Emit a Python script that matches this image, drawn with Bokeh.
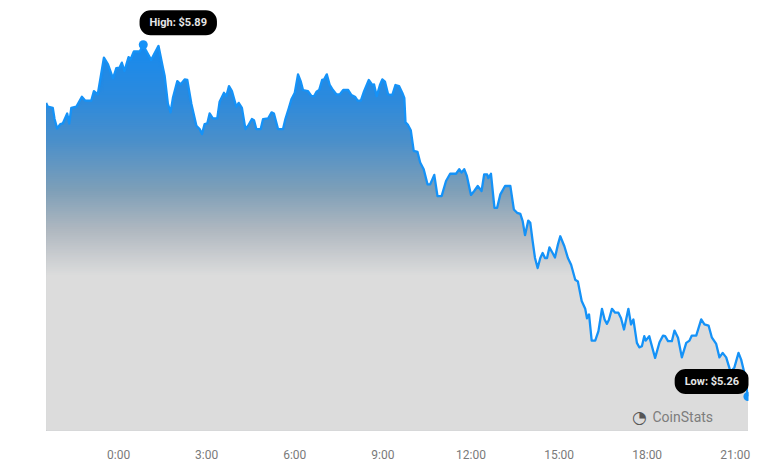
import numpy as np
from bokeh.plotting import figure
from bokeh.models import Range1d, Label, FixedTicker
from bokeh.embed import file_html
from bokeh.resources import INLINE

# ---- data (hours relative to midnight, price in USD) ----
hours = [-2.47, -2.41, -2.24, -2.18, -2.09, -1.98, -1.90, -1.75, -1.68, -1.61,
         -1.44, -1.25, -1.14, -0.93, -0.84, -0.71, -0.50, -0.36, -0.19, -0.08,
         0.03, 0.11, 0.20, 0.34, 0.41, 0.52, 0.72, 0.84, 0.94, 1.11,
         1.36, 1.51, 1.57, 1.68, 1.77, 1.85, 2.00, 2.11, 2.25, 2.34,
         2.48, 2.65, 2.76, 2.84, 2.93, 3.02, 3.10, 3.21, 3.36, 3.44,
         3.59, 3.67, 3.76, 3.86, 4.01, 4.09, 4.20, 4.32, 4.41, 4.54,
         4.61, 4.69, 4.84, 4.92, 5.09, 5.21, 5.29, 5.43, 5.60, 5.68,
         5.80, 5.89, 6.00, 6.11, 6.20, 6.28, 6.45, 6.57, 6.66, 6.74,
         6.83, 6.93, 7.00, 7.09, 7.19, 7.30, 7.42, 7.53, 7.65, 7.82,
         7.93, 8.05, 8.14, 8.25, 8.36, 8.52, 8.64, 8.70, 8.79, 8.90,
         8.98, 9.07, 9.18, 9.32, 9.43, 9.55, 9.66, 9.73, 9.77, 9.86,
         9.95, 10.05, 10.18, 10.27, 10.39, 10.52, 10.61, 10.75, 10.86, 11.00,
         11.15, 11.29, 11.49, 11.60, 11.68, 11.77, 11.86, 12.00, 12.11, 12.23,
         12.36, 12.45, 12.55, 12.59, 12.68, 12.80, 12.89, 13.00, 13.16, 13.34,
         13.46, 13.57, 13.68, 13.76, 13.84, 13.95, 14.02, 14.10, 14.18, 14.27,
         14.36, 14.44, 14.52, 14.59, 14.67, 14.78, 14.86, 14.96, 15.04, 15.18,
         15.30, 15.41, 15.55, 15.64, 15.77, 15.89, 15.95, 16.02, 16.11, 16.23,
         16.34, 16.46, 16.55, 16.63, 16.70, 16.80, 16.91, 17.02, 17.11, 17.21,
         17.36, 17.45, 17.53, 17.65, 17.73, 17.82, 17.90, 17.95, 18.07, 18.11,
         18.27, 18.42, 18.54, 18.61, 18.71, 18.84, 18.93, 19.05, 19.18, 19.33,
         19.44, 19.52, 19.67, 19.84, 19.95, 20.09, 20.20, 20.35, 20.46, 20.57,
         20.69, 20.84, 20.97, 21.11, 21.20, 21.31, 21.43]

prices = [5.786, 5.779, 5.777, 5.757, 5.740, 5.748, 5.749, 5.767, 5.749, 5.777,
          5.779, 5.797, 5.790, 5.790, 5.807, 5.801, 5.867, 5.855, 5.830, 5.848,
          5.849, 5.858, 5.843, 5.868, 5.864, 5.878, 5.878, 5.890, 5.879, 5.863,
          5.888, 5.849, 5.834, 5.784, 5.769, 5.795, 5.825, 5.819, 5.828, 5.827,
          5.784, 5.745, 5.739, 5.730, 5.748, 5.749, 5.767, 5.758, 5.758, 5.788,
          5.804, 5.798, 5.816, 5.807, 5.779, 5.786, 5.777, 5.739, 5.745, 5.757,
          5.755, 5.739, 5.739, 5.757, 5.758, 5.769, 5.767, 5.739, 5.739, 5.757,
          5.777, 5.793, 5.804, 5.837, 5.825, 5.809, 5.807, 5.798, 5.798, 5.806,
          5.809, 5.827, 5.828, 5.837, 5.818, 5.809, 5.801, 5.801, 5.809, 5.809,
          5.800, 5.797, 5.790, 5.790, 5.807, 5.827, 5.818, 5.819, 5.798, 5.818,
          5.828, 5.824, 5.801, 5.800, 5.818, 5.816, 5.804, 5.795, 5.751, 5.746,
          5.737, 5.700, 5.698, 5.679, 5.667, 5.640, 5.640, 5.657, 5.619, 5.619,
          5.646, 5.659, 5.659, 5.667, 5.661, 5.667, 5.655, 5.621, 5.628, 5.637,
          5.628, 5.658, 5.658, 5.651, 5.659, 5.598, 5.598, 5.622, 5.637, 5.637,
          5.595, 5.589, 5.587, 5.574, 5.549, 5.575, 5.571, 5.538, 5.508, 5.490,
          5.508, 5.517, 5.508, 5.508, 5.527, 5.517, 5.509, 5.532, 5.547, 5.529,
          5.508, 5.496, 5.469, 5.466, 5.431, 5.417, 5.400, 5.407, 5.360, 5.360,
          5.377, 5.417, 5.398, 5.390, 5.398, 5.417, 5.410, 5.410, 5.400, 5.380,
          5.417, 5.389, 5.398, 5.356, 5.348, 5.350, 5.368, 5.360, 5.368, 5.360,
          5.329, 5.357, 5.369, 5.368, 5.359, 5.359, 5.378, 5.365, 5.330, 5.356,
          5.360, 5.369, 5.369, 5.398, 5.389, 5.387, 5.366, 5.354, 5.330, 5.338,
          5.330, 5.304, 5.312, 5.338, 5.326, 5.302, 5.260]

tick_hours = [0, 3, 6, 9, 12, 15, 18, 21]
tick_labels = ["0:00", "3:00", "6:00", "9:00", "12:00", "15:00", "18:00", "21:00"]

# ---- styling ----
LINE = "#1592f7"
x_lo, x_hi = -2.4545, 21.45
y_lo, y_hi = 5.199, 5.955

p = figure(width=752, height=464, output_backend="svg", toolbar_location=None,
           x_range=Range1d(x_lo, x_hi), y_range=Range1d(y_lo, y_hi),
           y_axis_type=None, min_border_left=46, min_border_right=4,
           min_border_top=8, min_border_bottom=34)
p.outline_line_color = None
p.background_fill_color = "white"
p.border_fill_color = "white"
p.grid.visible = False

ax = p.xaxis[0]
ax.ticker = FixedTicker(ticks=tick_hours)
ax.major_label_overrides = {h: l for h, l in zip(tick_hours, tick_labels)}
ax.axis_line_color = None
ax.major_tick_line_color = None
ax.minor_tick_line_color = None
ax.major_tick_out = 0
ax.major_label_standoff = 17
ax.major_label_text_font = "Roboto"
ax.major_label_text_font_size = "12px"
ax.major_label_text_color = "#7a7a7a"

# vertical gradient (stops as fraction of frame height from the top)
stop_f = [0.088, 0.218, 0.313, 0.431, 0.526, 0.633]
stop_rgb = [(24, 138, 238), (45, 138, 220), (74, 143, 202),
            (126, 159, 184), (176, 184, 192), (220, 220, 220)]


def grad_color(yv):
    f = (y_hi - yv) / (y_hi - y_lo)
    r, g, b = (int(round(np.interp(f, stop_f, [s[c] for s in stop_rgb]))) for c in range(3))
    return f"#{r:02x}{g:02x}{b:02x}"


# layered bands: each layer fills from the bottom up to min(price, cap),
# drawn from the tallest cap downward so lower layers cover upper ones
pr = np.array(prices)
grad_bottom = y_hi - stop_f[-1] * (y_hi - y_lo)
step = (y_hi - y_lo) / 422 * 2  # about 2 px per band
caps = np.arange(pr.max(), grad_bottom - step, -step)
p.varea(x=hours, y1=y_lo, y2=prices, fill_color=grad_color(pr.max()), fill_alpha=1.0)
for cap in caps:
    p.varea(x=hours, y1=y_lo, y2=np.minimum(pr, cap),
            fill_color=grad_color(cap - step / 2), fill_alpha=1.0)

p.line(hours, prices, line_color=LINE, line_width=2.3, line_join="round")

i_hi = int(np.argmax(prices))
i_lo = int(np.argmin(prices))
p.scatter([hours[i_hi], hours[i_lo]], [prices[i_hi], prices[i_lo]], size=9,
          fill_color=LINE, line_color=None)

common = dict(text_align="center", text_baseline="middle", text_color="#e6e6e6",
              text_font="Roboto", text_font_style="bold", text_font_size="11px",
              background_fill_color="black", background_fill_alpha=1.0,
              border_radius=11, padding=dict(left=10, right=10, top=6, bottom=6))
p.add_layout(Label(x=hours[i_hi], y=prices[i_hi], x_offset=35, y_offset=22,
                   text=f"High: ${prices[i_hi]:.2f}", **common))
p.add_layout(Label(x=hours[i_lo], y=prices[i_lo], x_offset=-36, y_offset=15,
                   text=f"Low: ${prices[i_lo]:.2f}", **common))

# watermark
p.add_layout(Label(x=x_hi, y=y_lo, x_offset=-109, y_offset=14, text="◔",
                   text_align="center", text_baseline="middle",
                   text_font="DejaVu Sans", text_font_size="17px", text_color="#555555"))
p.add_layout(Label(x=x_hi, y=y_lo, x_offset=-96, y_offset=14, text="CoinStats",
                   text_align="left", text_baseline="middle",
                   text_font="Roboto", text_font_size="14px", text_color="#7d7d7d"))

open("out.html", "w").write(file_html(p, INLINE))
